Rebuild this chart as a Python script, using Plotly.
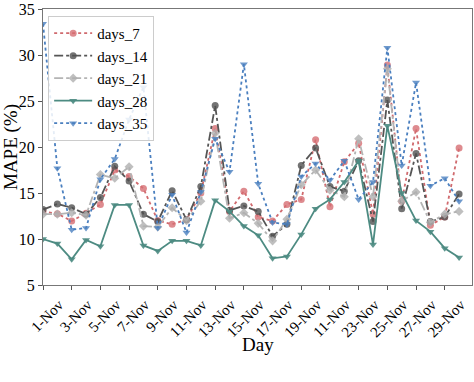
import plotly.graph_objects as go

days = list(range(30))
tick_idx = list(range(0, 30, 2))
tick_labels = ["1-Nov", "3-Nov", "5-Nov", "7-Nov", "9-Nov", "11-Nov", "13-Nov", "15-Nov",
               "17-Nov", "19-Nov", "11-Nov", "23-Nov", "25-Nov", "27-Nov", "29-Nov"]

days_7 = [13.0, 12.75, 11.95, 12.8, 13.75, 17.5, 16.8, 15.5, 12.0, 11.6, 12.1, 15.0, 22.0, 13.0, 15.2,
          12.4, 11.95, 13.75, 14.3, 20.8, 13.5, 18.4, 20.4, 12.7, 28.9, 14.1, 22.0, 11.5, 12.4, 19.9]
days_14 = [13.2, 13.8, 13.4, 12.7, 14.5, 17.9, 16.3, 12.7, 11.9, 15.25, 12.1, 15.7, 24.5, 13.1, 13.6,
           13.0, 10.3, 11.6, 18.0, 19.9, 15.7, 15.2, 18.5, 11.9, 25.1, 13.3, 19.3, 11.9, 12.4, 14.9]
days_21 = [12.7, 12.7, 12.85, 12.6, 17.0, 16.6, 17.85, 11.4, 11.3, 13.4, 12.0, 14.1, 21.5, 12.25, 12.85,
           11.7, 9.8, 12.15, 15.9, 17.5, 15.3, 14.6, 20.9, 14.6, 28.5, 14.1, 15.1, 11.8, 12.7, 13.0]
days_28 = [10.0, 9.5, 7.8, 9.9, 9.2, 13.7, 13.7, 9.3, 8.7, 9.8, 9.8, 9.3, 14.2, 13.0, 11.4,
           10.4, 7.9, 8.1, 10.5, 13.3, 14.3, 16.2, 18.5, 9.4, 22.3, 15.0, 12.0, 10.8, 9.0, 8.0]
days_35 = [33.4, 17.7, 11.0, 11.2, 16.5, 18.7, 23.0, 26.5, 11.2, 14.8, 10.7, 15.1, 20.9, 17.3, 29.0,
           16.0, 11.8, 11.6, 16.8, 18.2, 16.4, 18.5, 14.3, 16.2, 30.8, 18.0, 27.0, 15.8, 16.6, 14.1]

series = [
    ("days_7", days_7, "#d06a6e", "rgba(214,110,115,0.8)", "dot", "circle"),
    ("days_14", days_14, "#555555", "rgba(80,80,80,0.8)", "dashdot", "circle"),
    ("days_21", days_21, "#b4b4b4", "rgba(175,175,175,0.8)", "dashdot", "diamond"),
    ("days_28", days_28, "#4d8b82", "rgba(77,139,130,0.9)", "solid", "triangle-down"),
    ("days_35", days_35, "#4a7fbf", "rgba(74,127,191,0.8)", "dot", "triangle-down"),
]

fig = go.Figure()
for name, vals, lc, mc, dash, sym in series:
    fig.add_trace(go.Scatter(
        x=days, y=vals, name=name, mode="lines+markers",
        line=dict(color=lc, width=1.8, dash=dash),
        marker=dict(color=mc, size=7, symbol=sym, line=dict(width=0)),
    ))

font = "Liberation Serif, Times New Roman, serif"
fig.update_layout(
    width=474, height=382,
    margin=dict(l=43, r=2, t=9, b=97),
    paper_bgcolor="white", plot_bgcolor="white",
    font=dict(family=font, size=14, color="black"),
    showlegend=True,
    legend=dict(x=0.012, y=0.975, xanchor="left", yanchor="top",
                bgcolor="rgba(255,255,255,0.85)", bordercolor="#cccccc", borderwidth=1,
                font=dict(family=font, size=15), tracegroupgap=0, itemwidth=38),
    annotations=[dict(text="Day", xref="paper", yref="paper", x=0.5, y=-0.214,
                      xanchor="center", yanchor="middle", showarrow=False,
                      font=dict(family=font, size=19, color="black"))],
)
fig.update_xaxes(
    range=[0, 29.9], tickmode="array", tickvals=tick_idx, ticktext=tick_labels,
    tickangle=-45, ticks="outside", ticklen=4, tickcolor="#555", ticklabelshift=16,
    showline=True, linecolor="#777", linewidth=1.2, mirror=True, showgrid=False, zeroline=False,
    tickfont=dict(family=font, size=15), automargin=False, ticklabeloverflow="allow",
)
fig.update_yaxes(
    range=[5, 35], dtick=5, ticks="outside", ticklen=4, tickcolor="#555",
    showline=True, linecolor="#777", linewidth=1.2, mirror=True, showgrid=False, zeroline=False,
    title=dict(text="MAPE (%)", font=dict(family=font, size=19), standoff=4),
    tickfont=dict(family=font, size=16), automargin=False, ticklabeloverflow="allow",
)
fig.write_html("out.html", config={"displayModeBar": False},
               post_script="document.body.style.margin='0';document.body.style.overflow='hidden';")
